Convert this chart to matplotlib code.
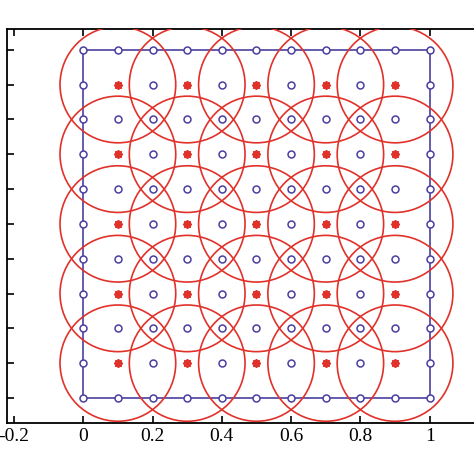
import numpy as np
import matplotlib
matplotlib.use("Agg")
import matplotlib.pyplot as plt
from matplotlib.patches import Circle

grid_vals = [0.0, 0.1, 0.2, 0.3, 0.4, 0.5, 0.6, 0.7, 0.8, 0.9, 1.0]
star_vals = [0.1, 0.3, 0.5, 0.7, 0.9]
radius = 0.167
xticks = [-0.2, 0, 0.2, 0.4, 0.6, 0.8, 1]
xticklabels = ["-0.2", "0", "0.2", "0.4", "0.6", "0.8", "1"]

fig = plt.figure(figsize=(4.74, 4.74), dpi=100)
ax = fig.add_axes([7/474, 51/474, 492/474, 394/474])
ax.set_xlim(-0.22, 1.2)
ax.set_ylim(-0.072, 1.06)

blue = "#4a3fa0"
red = "#e0322a"
ax.plot([0, 1, 1, 0, 0], [0, 0, 1, 1, 0], color=blue, lw=1.2, zorder=2)
stars = set((round(a, 2), round(b, 2)) for a in star_vals for b in star_vals)
bx, by = [], []
for x in grid_vals:
    for y in grid_vals:
        if (round(x, 2), round(y, 2)) not in stars:
            bx.append(x); by.append(y)
ax.plot(bx, by, 'o', mfc='white', mec=blue, ms=5, mew=1.1, ls='none', zorder=4)
sx = [a for a in star_vals for b in star_vals]
sy = [b for a in star_vals for b in star_vals]
ax.plot(sx, sy, marker=(8, 1, 0), color=red, mec=red, mfc=red, ms=6, mew=1.2, ls='none', zorder=4)
ax.plot(sx, sy, 'o', color=red, ms=4, ls='none', zorder=4)
for a, b in zip(sx, sy):
    ax.add_patch(Circle((a, b), radius, fill=False, ec=red, lw=1.2, zorder=3))

ax.set_xticks(xticks)
ax.set_xticklabels(xticklabels, family="Liberation Serif", fontsize=14)
ax.set_yticks(grid_vals)
ax.set_yticklabels([])
ax.tick_params(direction='in', top=True, length=5, width=1.2)
for s in ax.spines.values():
    s.set_linewidth(1.3)
fig.savefig("out.png", dpi=100)
